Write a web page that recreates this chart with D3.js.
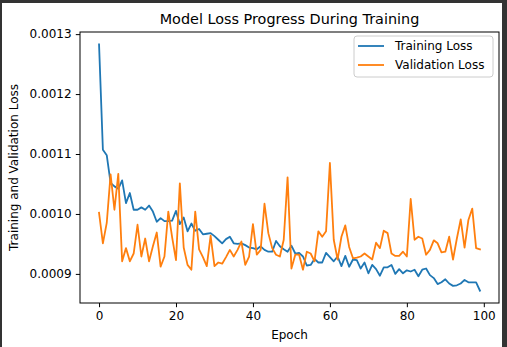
<!DOCTYPE html>
<html>
<head>
<meta charset="utf-8">
<script src="https://cdn.jsdelivr.net/npm/d3@7"></script>
<style>
  body { margin: 0; background: #ffffff; }
  svg { display: block; font-family: "DejaVu Sans", sans-serif; }
</style>
</head>
<body>
<svg id="canvas"></svg>
<script>
// epochs 0..99
let epochs = d3.range(100)

let trainingLoss = [
  0.001283, 0.001107, 0.001098, 0.001052, 0.001046, 0.001042, 0.001056, 0.001018, 0.001035, 0.001007,
  0.001007, 0.001011, 0.001007, 0.001014, 0.001004, 0.000987, 0.000993, 0.000988, 0.000988, 0.000989,
  0.001005, 0.000983, 0.000994, 0.000971, 0.000984, 0.000972, 0.000975, 0.000966, 0.000967, 0.000968,
  0.000963, 0.000957, 0.000951, 0.000958, 0.000962, 0.000951, 0.000950, 0.000951, 0.000948, 0.000944,
  0.000943, 0.000941, 0.000946, 0.000940, 0.000937, 0.000937, 0.000955, 0.000946, 0.000941, 0.000937,
  0.000947, 0.000934, 0.000935, 0.000929, 0.000914, 0.000915, 0.000925, 0.000919, 0.000919, 0.000935,
  0.000928, 0.000921, 0.000929, 0.000913, 0.000930, 0.000912, 0.000924, 0.000923, 0.000909, 0.000919,
  0.000901, 0.000915, 0.000908, 0.000897, 0.000911, 0.000911, 0.000915, 0.000900, 0.000908, 0.000901,
  0.000906, 0.000904, 0.000907, 0.000896, 0.000907, 0.000909, 0.000898, 0.000893, 0.000883, 0.000886,
  0.000891, 0.000884, 0.000880, 0.000881, 0.000884, 0.000890, 0.000886, 0.000886, 0.000886, 0.000872
]

let validationLoss = [
  0.001002, 0.000951, 0.000985, 0.001066, 0.001007, 0.001067, 0.000921, 0.000943, 0.000921, 0.000934,
  0.000982, 0.000929, 0.000959, 0.000921, 0.000946, 0.000969, 0.000912, 0.000929, 0.001004, 0.000961,
  0.000923, 0.001051, 0.000944, 0.000915, 0.000907, 0.001004, 0.000941, 0.000928, 0.000913, 0.000964,
  0.000913, 0.000919, 0.000917, 0.000928, 0.000940, 0.000929, 0.000940, 0.000954, 0.000915, 0.000929,
  0.000983, 0.000932, 0.000940, 0.001017, 0.000968, 0.000943, 0.000932, 0.000929, 0.000957, 0.001061,
  0.000909, 0.000932, 0.000932, 0.000907, 0.000937, 0.000934, 0.000921, 0.000971, 0.000962, 0.000971,
  0.001085, 0.000957, 0.000924, 0.000962, 0.000981, 0.000945, 0.000926, 0.000927, 0.000929, 0.000934,
  0.000929, 0.000924, 0.000952, 0.000943, 0.000972, 0.000968, 0.000934, 0.000930, 0.000930, 0.000937,
  0.000929, 0.001025, 0.000957, 0.000962, 0.000959, 0.000932, 0.000940, 0.000956, 0.000951, 0.000936,
  0.000937, 0.000962, 0.000924, 0.000959, 0.000991, 0.000944, 0.000990, 0.001009, 0.000943, 0.000941
]

let seriesNames = ["Training Loss", "Validation Loss"]
let seriesColors = ["#1f77b4", "#ff7f0e"]
let xTicks = [0, 20, 40, 60, 80, 100]
let yTicks = [0.0009, 0.0010, 0.0011, 0.0012, 0.0013]

let width = 507
let height = 347
let plot = { left: 80, right: 499, top: 32, bottom: 303 }

let canvas = d3.select("#canvas")
canvas.attr("width", width)
      .attr("height", height)

// dark notebook frame around the output
canvas.append("rect").attr("x", 0).attr("y", 0).attr("width", width).attr("height", height).attr("fill", "#333")
canvas.append("rect").attr("x", 2).attr("y", 3).attr("width", width - 7).attr("height", height - 3).attr("fill", "#fff")

// matplotlib style 5% margins
let xPad = (d3.max(epochs) - d3.min(epochs)) * 0.05
let xScale = d3.scaleLinear()
               .domain([d3.min(epochs) - xPad, d3.max(epochs) + xPad])
               .range([plot.left, plot.right])

let allValues = trainingLoss.concat(validationLoss)
let yMin = d3.min(allValues)
let yMax = d3.max(allValues)
let yPad = (yMax - yMin) * 0.05
let yScale = d3.scaleLinear()
               .domain([yMin - yPad, yMax + yPad])
               .range([plot.bottom, plot.top])

let xAxis = d3.axisBottom(xScale).tickValues(xTicks).tickSize(4.2).tickPadding(4.2).tickFormat(d3.format("d"))
let yAxis = d3.axisLeft(yScale).tickValues(yTicks).tickSize(4.2).tickPadding(4.2).tickFormat(d3.format(".4f"))

let xAxisGroup = canvas.append("g")
                       .attr("transform", "translate(0," + plot.bottom + ")")
                       .call(xAxis)
let yAxisGroup = canvas.append("g")
                       .attr("transform", "translate(" + plot.left + ",0)")
                       .call(yAxis)

;[xAxisGroup, yAxisGroup].forEach(g => {
  g.select(".domain").remove()
  g.selectAll(".tick line").attr("stroke", "#000").attr("stroke-width", 1)
  g.selectAll(".tick text")
   .attr("fill", "#000")
   .attr("font-size", "12px")
   .attr("font-family", "DejaVu Sans")
})

// lines
let lineFor = values => d3.line()
                          .x((d, i) => xScale(epochs[i]))
                          .y(d => yScale(d))(values)

let allSeries = [trainingLoss, validationLoss]
canvas.selectAll(".series")
      .data(allSeries)
      .enter().append("path")
      .attr("class", "series")
      .attr("d", values => lineFor(values))
      .attr("fill", "none")
      .attr("stroke", (d, i) => seriesColors[i])
      .attr("stroke-width", 1.8)
      .attr("stroke-linejoin", "round")
      .attr("stroke-linecap", "square")

// axes frame
canvas.append("rect")
      .attr("x", plot.left)
      .attr("y", plot.top)
      .attr("width", plot.right - plot.left)
      .attr("height", plot.bottom - plot.top)
      .attr("fill", "none")
      .attr("stroke", "#000")
      .attr("stroke-width", 1)

// title and axis labels
canvas.append("text")
      .attr("x", (plot.left + plot.right) / 2)
      .attr("y", 24)
      .attr("text-anchor", "middle")
      .attr("font-size", "14.4px")
      .text("Model Loss Progress During Training")

canvas.append("text")
      .attr("x", (plot.left + plot.right) / 2)
      .attr("y", 339)
      .attr("text-anchor", "middle")
      .attr("font-size", "12px")
      .text("Epoch")

canvas.append("text")
      .attr("transform", "translate(18," + ((plot.top + plot.bottom) / 2) + ") rotate(-90)")
      .attr("text-anchor", "middle")
      .attr("font-size", "12px")
      .text("Training and Validation Loss")

// legend
let legend = canvas.append("g").attr("transform", "translate(354,36)")
legend.append("rect")
      .attr("width", 139)
      .attr("height", 41)
      .attr("rx", 3)
      .attr("fill", "#fff")
      .attr("fill-opacity", 0.8)
      .attr("stroke", "#ccc")
      .attr("stroke-width", 1)

seriesNames.forEach((name, i) => {
  let rowY = 10 + i * 19
  legend.append("line")
        .attr("x1", 4).attr("x2", 30)
        .attr("y1", rowY).attr("y2", rowY)
        .attr("stroke", seriesColors[i])
        .attr("stroke-width", 1.8)
  legend.append("text")
        .attr("x", 41)
        .attr("y", rowY + 4.3)
        .attr("font-size", "12px")
        .text(name)
})
</script>
</body>
</html>
